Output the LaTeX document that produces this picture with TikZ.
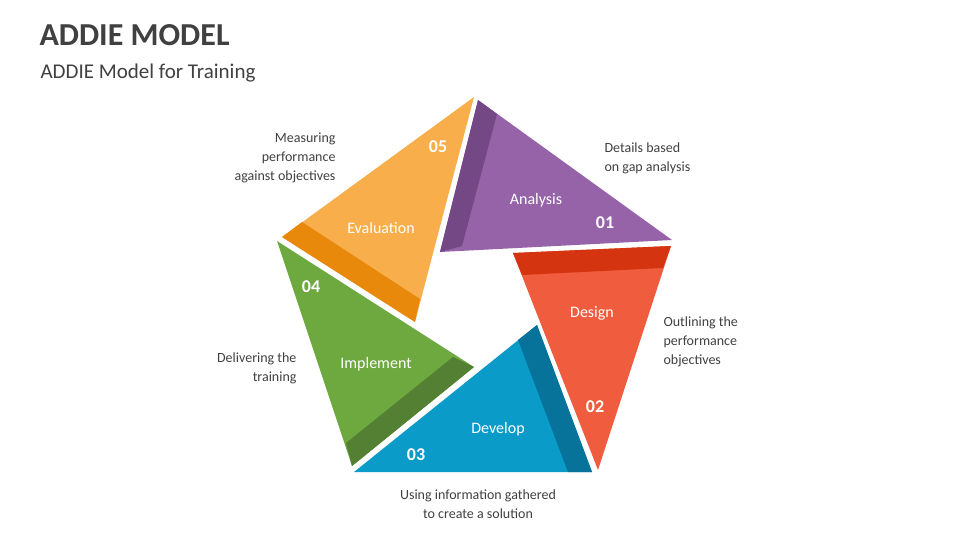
\documentclass[tikz,border=0pt]{standalone}
\usepackage{fontspec}
\setmainfont{Carlito}
\definecolor{ink}{HTML}{404040}
\definecolor{purp}{HTML}{9663A9}\definecolor{purpd}{HTML}{744785}
\definecolor{redd}{HTML}{F05D3E}\definecolor{reddd}{HTML}{D43510}
\definecolor{blu}{HTML}{0A9BC9}\definecolor{blud}{HTML}{07729A}
\definecolor{grn}{HTML}{6EA940}\definecolor{grnd}{HTML}{538033}
\definecolor{orn}{HTML}{F8AE4A}\definecolor{ornd}{HTML}{E8890C}
\tikzset{
 lab/.style={text=white, font=\fontsize{16}{18}\selectfont},
 num/.style={text=white, font=\bfseries\fontsize{18}{20}\selectfont},
 note/.style={text=ink, font=\fontsize{14}{19}\selectfont, align=#1},
}
\begin{document}
\begin{tikzpicture}[x=1pt, y=-1pt]
 \useasboundingbox (0,0) rectangle (960,540);
 \node[anchor=west, text=ink, font=\bfseries\fontsize{32}{34}\selectfont] (title) at (36,35) {ADDIE MODEL};
 \node[anchor=west, text=ink, font=\fontsize{21}{24}\selectfont] (sub) at (37,73) {ADDIE Model for Training};
 % triangles: fill, then dark strip
 \fill[purp] (478,100)--(672,240)--(440,252)--cycle;
 \fill[purpd] (478,100)--(497,114)--(462,246)--(440,252)--cycle;
 \fill[redd] (513,253)--(671,246)--(598,470)--cycle;
 \fill[reddd] (513,253)--(671,246)--(663,268)--(522,275)--cycle;
 \fill[blu] (537,325)--(592,472)--(354,472)--cycle;
 \fill[blud] (537,325)--(592,472)--(568,472)--(518,340)--cycle;
 \fill[grn] (277,241)--(474,367)--(352,466)--cycle;
 \fill[grnd] (474,367)--(352,466)--(346,443)--(453,357)--cycle;
 \fill[orn] (474,97)--(282,237)--(415,322)--cycle;
 \fill[ornd] (282,237)--(415,322)--(420,299)--(302,222)--cycle;
 % labels
 \node[lab] (ana) at (536,200) {Analysis};
 \node[num] (n1) at (605,223) {01};
 \node[lab] (des) at (592,313) {Design};
 \node[num] (n2) at (595,407) {02};
 \node[lab] (dev) at (498,429) {Develop};
 \node[num] (n3) at (416,455) {03};
 \node[lab] (imp) at (376,364) {Implement};
 \node[num] (n4) at (311,287) {04};
 \node[lab] (eva) at (381,228) {Evaluation};
 \node[num] (n5) at (438,147) {05};
 % notes
 \node[note=right, anchor=east] (t5) at (339,158) {Measuring\\performance\\against objectives};
 \node[note=left, anchor=west] (t1) at (601,158) {Details based\\on gap analysis};
 \node[note=left, anchor=west] (t2) at (660,342) {Outlining the\\performance\\objectives};
 \node[note=right, anchor=east] (t4) at (300,368) {Delivering the\\training};
 \node[note=center] (t3) at (478,504) {Using information gathered\\to create a solution};
\end{tikzpicture}
\end{document}
